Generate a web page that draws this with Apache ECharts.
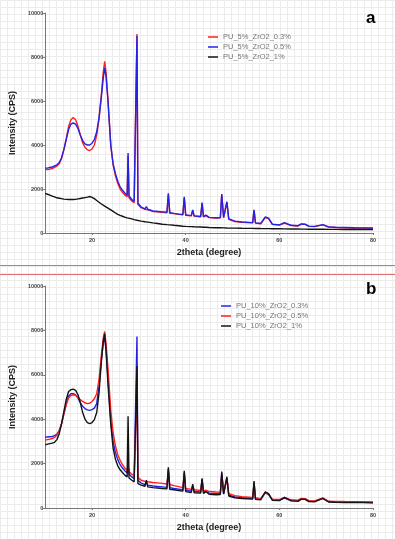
<!DOCTYPE html>
<html>
<head>
<meta charset="utf-8">
<script src="https://cdn.jsdelivr.net/npm/echarts@6/dist/echarts.min.js"></script>
<style>
  html, body { margin: 0; padding: 0; background: #fff; }
  #myChart {
    width: 395px;
    height: 539px;
    background-color: #fff;
    background-image: linear-gradient(#ececec 1px, transparent 1px),
      linear-gradient(90deg, #ececec 1px, transparent 1px);
    background-size: 7px 7px;
  }
</style>
</head>
<body>
<div id="myChart"></div>
<script>
// 2theta positions shared by all six patterns
var twoTheta = [10, 10.5, 11, 11.5, 12, 12.5, 13, 13.5, 14, 14.5, 15, 15.5, 16, 16.5, 17, 17.5, 18, 18.5, 19, 19.5,
  20, 20.5, 21, 21.5, 22, 22.4, 22.7, 23, 23.4, 24, 24.5, 25, 25.5, 26, 26.5, 27, 27.5, 27.7, 27.9, 28.5,
  29, 29.4, 29.6, 29.8, 30.5, 31.3, 31.6, 31.9, 33, 34, 35, 36, 36.3, 36.6, 37.5, 38.5, 39.4, 39.7, 40, 41.2,
  41.5, 41.8, 43.2, 43.5, 43.8, 44.3, 45, 46.5, 47.4, 47.7, 48.1, 48.8, 49.2, 50.5, 52, 54.3, 54.6, 54.9, 56, 57,
  57.7, 58.5, 60, 61.1, 62.5, 64, 64.7, 65.5, 66.3, 67.5, 69.3, 70.5, 72, 74, 76, 78, 80];

var namesA = ['PU_5%_ZrO2_0.3%', 'PU_5%_ZrO2_0.5%', 'PU_5%_ZrO2_1%'];
var namesB = ['PU_10%_ZrO2_0.3%', 'PU_10%_ZrO2_0.5%', 'PU_10%_ZrO2_1%'];

var a_03 = [2900, 2880, 2900, 2930, 2980, 3050, 3150, 3400, 3800, 4300, 4850, 5150, 5250, 5150, 4850, 4450, 4100, 3900, 3780, 3750,
  3820, 4000, 4450, 5200, 6300, 7300, 7800, 7300, 6100, 4000, 3100, 2600, 2250, 2000, 1850, 1720, 1650, 3500, 1600, 1450,
  1380, 1350, 9050, 1300, 1150, 1080, 1150, 1050, 980, 960, 940, 920, 1750, 900, 880, 850, 830, 1600, 810, 780,
  1030, 770, 740, 1350, 730, 800, 700, 680, 690, 1750, 700, 1400, 620, 520, 490, 460, 1030, 450, 420, 700,
  650, 390, 360, 450, 340, 320, 400, 390, 300, 290, 370, 270, 250, 240, 230, 220, 210];
var a_05 = [2950, 2950, 2980, 3000, 3050, 3100, 3200, 3420, 3800, 4250, 4700, 4950, 5000, 4950, 4750, 4450, 4200, 4050, 4000, 4000,
  4080, 4250, 4600, 5250, 6200, 7050, 7500, 7100, 6000, 4000, 3150, 2700, 2350, 2100, 1950, 1820, 1720, 3640, 1680, 1520,
  1450, 1400, 8950, 1350, 1180, 1100, 1200, 1080, 1000, 980, 960, 940, 1800, 920, 890, 860, 840, 1650, 820, 790,
  1050, 780, 750, 1380, 740, 810, 710, 690, 700, 1770, 710, 1420, 640, 540, 500, 470, 1050, 460, 430, 730,
  680, 400, 370, 470, 350, 330, 410, 400, 310, 300, 380, 280, 260, 250, 240, 235, 230];
var a_1 = [1800, 1760, 1720, 1680, 1640, 1600, 1580, 1560, 1540, 1530, 1520, 1520, 1520, 1530, 1550, 1570, 1590, 1610, 1630, 1660,
  1620, 1560, 1480, 1400, 1320, 1260, 1220, 1180, 1130, 1050, 980, 910, 850, 800, 760, 720, 690, 680, 670, 640,
  610, 590, 580, 575, 540, 510, 500, 495, 460, 430, 400, 380, 375, 370, 350, 330, 310, 305, 300, 290,
  285, 282, 270, 265, 262, 258, 252, 242, 238, 236, 234, 230, 228, 222, 215, 208, 207, 206, 202, 199,
  197, 194, 190, 186, 182, 179, 177, 175, 173, 171, 168, 166, 164, 162, 160, 158, 155];

var b_03 = [3200, 3200, 3210, 3220, 3260, 3330, 3500, 3800, 4250, 4700, 5050, 5150, 5150, 5100, 4950, 4750, 4580, 4480, 4420, 4400,
  4430, 4500, 4700, 5500, 6700, 7450, 7700, 7100, 5900, 3950, 3000, 2500, 2180, 1950, 1800, 1680, 1580, 2000, 1530, 1400,
  1320, 1280, 7730, 1250, 1120, 1050, 1150, 1030, 990, 970, 950, 930, 1750, 910, 880, 850, 820, 1600, 800, 760,
  1000, 750, 720, 1280, 710, 760, 670, 640, 640, 1560, 650, 1350, 580, 500, 470, 430, 1150, 420, 390, 680,
  600, 370, 350, 450, 340, 330, 420, 410, 310, 300, 430, 290, 280, 270, 265, 260, 250];
var b_05 = [3060, 3080, 3100, 3130, 3180, 3280, 3480, 3800, 4250, 4650, 4950, 5080, 5100, 5080, 4980, 4880, 4800, 4740, 4700, 4720,
  4800, 4920, 5150, 5800, 6900, 7650, 7950, 7400, 6300, 4400, 3400, 2800, 2400, 2150, 1950, 1800, 1700, 1900, 1650, 1520,
  1450, 1420, 5500, 1380, 1250, 1200, 1260, 1180, 1150, 1130, 1110, 1080, 1650, 1060, 1010, 960, 920, 1500, 880, 840,
  1000, 820, 790, 1250, 770, 800, 740, 720, 710, 1500, 700, 1300, 640, 560, 510, 470, 1000, 460, 420, 700,
  620, 400, 380, 480, 370, 350, 430, 420, 330, 320, 450, 310, 300, 290, 285, 280, 270];
var b_1 = [2840, 2880, 2900, 2920, 2960, 3080, 3350, 3800, 4350, 4900, 5250, 5330, 5350, 5300, 5100, 4750, 4300, 4000, 3850, 3800,
  3850, 3980, 4300, 5200, 6600, 7500, 7850, 7100, 5600, 3800, 2700, 2200, 1900, 1720, 1600, 1480, 1400, 4130, 1350, 1250,
  1180, 1150, 6400, 1100, 1030, 980, 1250, 950, 920, 900, 880, 860, 1830, 840, 820, 790, 760, 1680, 740, 700,
  1080, 690, 670, 1340, 660, 740, 620, 600, 610, 1640, 620, 1410, 540, 460, 430, 400, 1210, 390, 370, 730,
  650, 350, 330, 480, 320, 300, 400, 390, 290, 280, 430, 270, 260, 250, 245, 240, 230];

var xTicks = [20, 40, 60, 80];

function pairs(ys) {
  var out = [];
  for (var i = 0; i < twoTheta.length; i++) {
    out.push([twoTheta[i], ys[i]]);
  }
  return out;
}

function makeX(idx) {
  return {
    type: 'value',
    gridIndex: idx,
    min: 10,
    max: 80,
    name: '2theta (degree)',
    nameLocation: 'middle',
    nameGap: 15,
    nameTextStyle: { fontSize: 9, fontWeight: 'bold', color: '#222', fontFamily: 'Liberation Sans' },
    axisLine: { show: true, lineStyle: { color: '#777', width: 1 } },
    axisTick: { show: true, length: 2, customValues: xTicks, lineStyle: { color: '#777' } },
    axisLabel: { customValues: xTicks, fontSize: 5.5, fontWeight: 'bold', color: '#444', margin: 4, fontFamily: 'Liberation Sans' },
    splitLine: { show: false }
  };
}

function makeY(idx) {
  return {
    type: 'value',
    gridIndex: idx,
    min: 0,
    max: 10000,
    interval: 2000,
    name: 'Intensity (CPS)',
    nameLocation: 'middle',
    nameGap: 26,
    nameTextStyle: { fontSize: 9, fontWeight: 'bold', color: '#222', fontFamily: 'Liberation Sans' },
    axisLine: { show: true, lineStyle: { color: '#777', width: 1 } },
    axisTick: { show: true, length: 2, lineStyle: { color: '#777' } },
    axisLabel: {
      fontSize: 5.5, fontWeight: 'bold', color: '#444', margin: 2, fontFamily: 'Liberation Sans',
      formatter: function (v) { return String(v); }
    },
    splitLine: { show: false }
  };
}

function makeSeries(name, ys, idx, color) {
  return {
    name: name,
    type: 'line',
    xAxisIndex: idx,
    yAxisIndex: idx,
    data: pairs(ys),
    showSymbol: false,
    symbol: 'none',
    color: color,
    lineStyle: { width: 1.4, color: color },
    animation: false
  };
}

var red = '#ff1f1f';
var blue = '#2323e6';
var black = '#141414';

var option = {
  backgroundColor: 'transparent',
  animation: false,
  grid: [
    { left: 42, top: 13, width: 331, height: 220 },
    { left: 42, top: 286, width: 331, height: 222 }
  ],
  xAxis: [makeX(0), makeX(1)],
  yAxis: [makeY(0), makeY(1)],
  legend: [
    {
      data: namesA,
      orient: 'vertical',
      left: 203,
      top: 28,
      itemWidth: 10,
      itemHeight: 1.5,
      itemGap: 2,
      icon: 'rect',
      textStyle: { fontSize: 7.5, color: '#777', lineHeight: 8, fontFamily: 'Liberation Sans' }
    },
    {
      data: namesB,
      orient: 'vertical',
      left: 216,
      top: 297,
      itemWidth: 10,
      itemHeight: 1.5,
      itemGap: 2,
      icon: 'rect',
      textStyle: { fontSize: 7.5, color: '#777', lineHeight: 8, fontFamily: 'Liberation Sans' }
    }
  ],
  graphic: [
    { type: 'line', shape: { x1: 0, y1: 265.5, x2: 395, y2: 265.5 }, style: { stroke: '#e07070', lineWidth: 1 } },
    { type: 'line', shape: { x1: 0, y1: 274.5, x2: 395, y2: 274.5 }, style: { stroke: '#e07070', lineWidth: 1 } },
    { type: 'text', left: 366, top: 10, style: { text: 'a', font: 'bold 17px Liberation Sans', fill: '#000' } },
    { type: 'text', left: 366, top: 281, style: { text: 'b', font: 'bold 17px Liberation Sans', fill: '#000' } }
  ],
  series: [
    makeSeries(namesA[0], a_03, 0, red),
    makeSeries(namesA[1], a_05, 0, blue),
    makeSeries(namesA[2], a_1, 0, black),
    makeSeries(namesB[0], b_03, 1, blue),
    makeSeries(namesB[1], b_05, 1, red),
    makeSeries(namesB[2], b_1, 1, black)
  ]
};

var chartDom = document.getElementById('myChart');
var myChart = echarts.init(chartDom, null, { renderer: 'canvas' });
option && myChart.setOption(option);
</script>
</body>
</html>
